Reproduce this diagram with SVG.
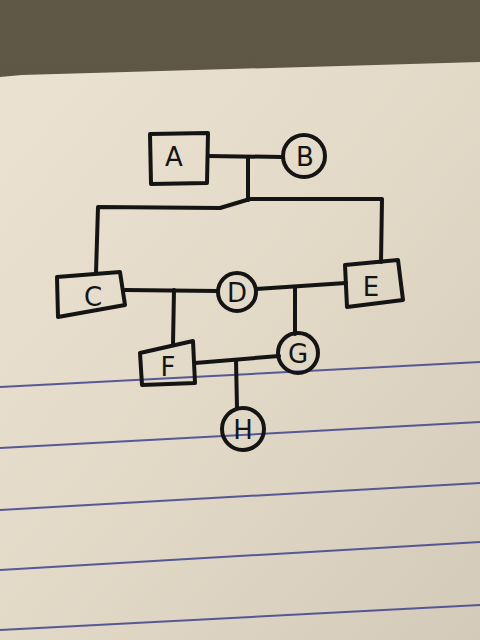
<svg xmlns="http://www.w3.org/2000/svg" width="480" height="640" viewBox="0 0 480 640">
  <defs>
    <linearGradient id="paper" x1="0" y1="0" x2="1" y2="1">
      <stop offset="0" stop-color="#ebe2d2"/>
      <stop offset="0.5" stop-color="#e3d9c7"/>
      <stop offset="1" stop-color="#d4cab9"/>
    </linearGradient>
    <linearGradient id="table" x1="0" y1="0" x2="0" y2="1">
      <stop offset="0" stop-color="#605847"/>
      <stop offset="1" stop-color="#574e3d"/>
    </linearGradient>
  </defs>
  <style>
    .ink { fill: none; stroke: #141414; stroke-width: 4; stroke-linejoin: round; stroke-linecap: round; }
    .box { fill: none; stroke: #141414; stroke-width: 4; stroke-linejoin: round; }
    .rule { stroke: #3f438f; stroke-width: 2; opacity: 0.85; }
    .lbl { font-family: "DejaVu Sans", "Liberation Sans", sans-serif; font-size: 26px; fill: #141414; text-anchor: middle; dominant-baseline: central; }
  </style>

  <!-- background: table and paper -->
  <rect x="0" y="0" width="480" height="640" fill="url(#table)"/>
  <polygon points="0,77 22,75 480,62 480,640 0,640" fill="url(#paper)"/>

  <!-- notebook rules -->
  <g id="rules">
    <line class="rule" x1="0" y1="387" x2="480" y2="362"/>
    <line class="rule" x1="0" y1="448" x2="480" y2="422"/>
    <line class="rule" x1="0" y1="510" x2="480" y2="483"/>
    <line class="rule" x1="0" y1="570" x2="480" y2="542"/>
    <line class="rule" x1="0" y1="630" x2="480" y2="605"/>
  </g>

  <!-- connectors -->
  <g id="connectors">
    <!-- A = B mating line and drop -->
    <path class="ink" d="M208,156 L282,157"/>
    <path class="ink" d="M248,157 L248,200"/>
    <!-- sibship line to C and E -->
    <path class="ink" d="M96,273 L98,207 L220,208 L250,199 L382,199 L381,262"/>
    <!-- C = D mating line and drop to F -->
    <path class="ink" d="M125,290 L218,291"/>
    <path class="ink" d="M174,290 L173,344"/>
    <!-- D = E mating line and drop to G -->
    <path class="ink" d="M256,289 L346,283"/>
    <path class="ink" d="M295,287 L295,334"/>
    <!-- F = G mating line and drop to H -->
    <path class="ink" d="M195,363 L279,356"/>
    <path class="ink" d="M236,360 L237,408"/>
  </g>

  <g id="node-A">
    <polygon class="box" points="150,134 208,133 207,183 151,184"/>
    <text class="lbl" x="174" y="157">A</text>
  </g>
  <g id="node-B">
    <circle class="box" cx="304" cy="156" r="21"/>
    <text class="lbl" x="305" y="157" font-size="25">B</text>
  </g>
  <g id="node-C">
    <polygon class="box" points="57,277 120,272 125,305 58,317"/>
    <text class="lbl" x="93" y="297">C</text>
  </g>
  <g id="node-D">
    <circle class="box" cx="237" cy="292" r="19"/>
    <text class="lbl" x="237" y="293" font-size="24">D</text>
  </g>
  <g id="node-E">
    <polygon class="box" points="345,265 398,260 403,300 347,307"/>
    <text class="lbl" x="371" y="287">E</text>
  </g>
  <g id="node-F">
    <polygon class="box" points="140,353 193,341 195,383 142,385"/>
    <text class="lbl" x="168" y="367" font-size="24">F</text>
  </g>
  <g id="node-G">
    <circle class="box" cx="298" cy="353" r="20"/>
    <text class="lbl" x="298" y="354" font-size="22">G</text>
  </g>
  <g id="node-H">
    <circle class="box" cx="243" cy="429" r="21"/>
    <text class="lbl" x="243" y="430" font-size="22">H</text>
  </g>
</svg>
